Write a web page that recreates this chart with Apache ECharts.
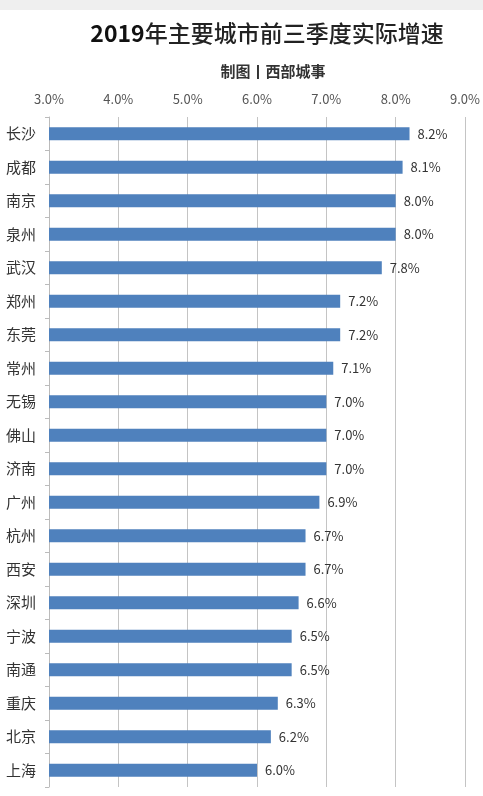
<!DOCTYPE html>
<html>
<head>
<meta charset="utf-8">
<script src="https://cdn.jsdelivr.net/npm/echarts@6/dist/echarts.min.js"></script>
<style>
	html, body { margin: 0; padding: 0; background: #fff; }
	#chart { width: 483px; height: 796px; }
</style>
</head>
<body>
<div id="chart"></div>
<script>
const cidades = ['长沙', '成都', '南京', '泉州', '武汉', '郑州', '东莞', '常州', '无锡', '佛山', '济南', '广州', '杭州', '西安', '深圳', '宁波', '南通', '重庆', '北京', '上海']
const crescimento = [8.2, 8.1, 8.0, 8.0, 7.8, 7.2, 7.2, 7.1, 7.0, 7.0, 7.0, 6.9, 6.7, 6.7, 6.6, 6.5, 6.5, 6.3, 6.2, 6.0]
const eixoMin = 3
const eixoMax = 9

const fonte = '"Noto Sans CJK SC", "Noto Sans", sans-serif'
const myChart = echarts.init(document.getElementById('chart'), null, { renderer: 'canvas' })

let option = {
	backgroundColor: '#fff',
	animation: false,
	title: [
		{
			text: '{a|2019}{b|年主要城市前三季度实际增速}',
			left: 262,
			top: 17,
			textAlign: 'center',
			textStyle: {
				rich: {
					a: { fontFamily: fonte, fontSize: 23, fontWeight: 'bold', color: '#111' },
					b: { fontFamily: fonte, fontSize: 23, fontWeight: 500, color: '#222' },
				},
			},
		},
		{
			text: '制图丨西部城事',
			left: 268,
			top: 59,
			textAlign: 'center',
			textStyle: { fontFamily: fonte, fontSize: 15, fontWeight: 'bold', color: '#333' },
		},
	],
	graphic: [
		{ type: 'rect', shape: { x: 0, y: 0, width: 483, height: 10 }, style: { fill: '#efefef' } },
	],
	grid: { left: 49, right: 16, top: 117, bottom: 9 },
	xAxis: {
		type: 'value',
		position: 'top',
		min: eixoMin,
		max: eixoMax,
		interval: 1,
		axisLine: { show: false },
		axisTick: { show: false },
		splitLine: { show: true, lineStyle: { color: '#c4c4c4' } },
		axisLabel: {
			formatter: (v) => v.toFixed(1) + '%',
			fontFamily: fonte,
			fontSize: 13,
			color: '#555',
			margin: 11,
		},
	},
	yAxis: {
		type: 'category',
		inverse: true,
		data: cidades,
		axisLine: { show: true, lineStyle: { color: '#bbb' } },
		axisTick: { show: true, length: 4, lineStyle: { color: '#bbb' } },
		axisLabel: { fontFamily: fonte, fontSize: 15, color: '#333', margin: 13 },
	},
	series: [
		{
			type: 'bar',
			data: crescimento,
			barWidth: 13,
			itemStyle: { color: '#4f81bd' },
			label: {
				show: true,
				position: 'right',
				distance: 8,
				formatter: (p) => p.value.toFixed(1) + '%',
				fontFamily: fonte,
				fontSize: 13,
				color: '#333',
			},
		},
	],
}
myChart.setOption(option)

window.addEventListener('resize', () => {
	myChart.resize()
})
</script>
</body>
</html>
